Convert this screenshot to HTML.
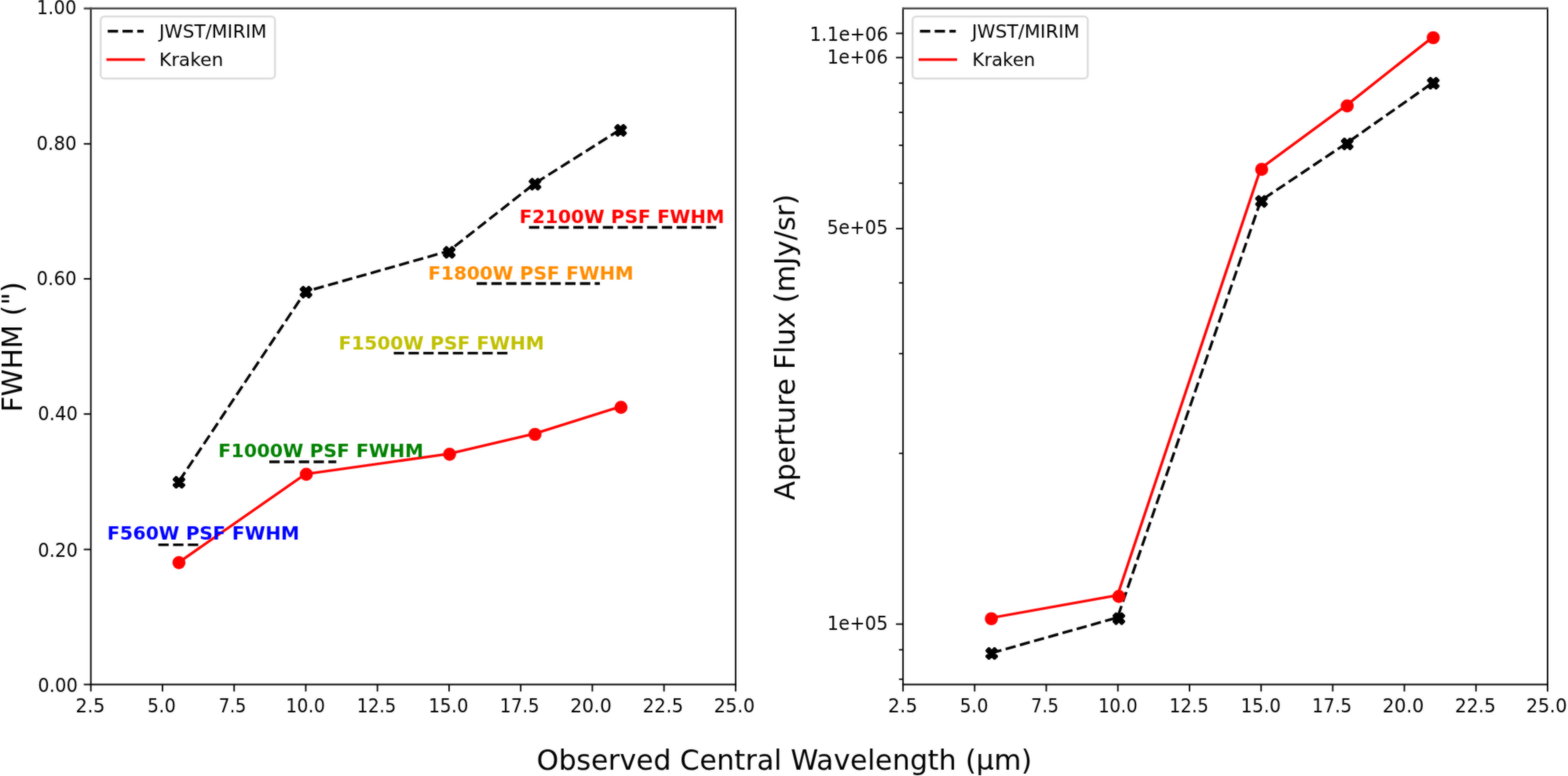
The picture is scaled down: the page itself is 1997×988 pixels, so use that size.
<!DOCTYPE html>
<html lang="en"><head><meta charset="utf-8"><title>FWHM and Aperture Flux vs Observed Central Wavelength</title>
<style>
html,body{margin:0;padding:0;background:#fff;}
body{width:1997px;height:988px;overflow:hidden;}
svg{display:block;}
.t{font-family:'DejaVu Sans', 'Liberation Sans', sans-serif;font-size:23.8px;fill:#000;}
.l{font-family:'DejaVu Sans', 'Liberation Sans', sans-serif;font-size:35.7px;fill:#000;}
.b{font-family:'DejaVu Sans', 'Liberation Sans', sans-serif;font-size:23.8px;font-weight:bold;}
</style></head><body>
<svg width="1997" height="988" viewBox="0 0 1997 988">
<defs><filter id="soft" x="0" y="0" width="1997" height="988" filterUnits="userSpaceOnUse" color-interpolation-filters="sRGB"><feGaussianBlur in="SourceGraphic" stdDeviation="1" result="b"/><feComposite in="SourceGraphic" in2="b" operator="arithmetic" k1="0" k2="0.5" k3="0.5" k4="0"/></filter></defs>
<g filter="url(#soft)">
<rect width="1997" height="988" fill="#fff"/>
<g id="ax-left">
<rect x="115.7" y="10.8" width="821.2" height="860.6" fill="#fff" stroke="none"/>
<line x1="115.7" y1="871.4" x2="115.7" y2="880.4" stroke="#000" stroke-width="1.9"/>
<text transform="matrix(0.9898 0 0 1.01 1.59 -9.52)" x="114.5" y="907.1" class="t" text-anchor="middle">2.5</text>
<line x1="206.94" y1="871.4" x2="206.94" y2="880.4" stroke="#000" stroke-width="1.9"/>
<text transform="matrix(0.9557 0 0 1.01 9.17 -9.52)" x="205.74" y="907.1" class="t" text-anchor="middle">5.0</text>
<line x1="298.19" y1="871.4" x2="298.19" y2="880.4" stroke="#000" stroke-width="1.9"/>
<text transform="matrix(0.9339 0 0 1.01 18.72 -9.52)" x="296.99" y="907.1" class="t" text-anchor="middle">7.5</text>
<line x1="389.43" y1="871.4" x2="389.43" y2="880.4" stroke="#000" stroke-width="1.9"/>
<text transform="matrix(0.9467 0 0 1.01 21.48 -9.52)" x="388.23" y="907.1" class="t" text-anchor="middle">10.0</text>
<line x1="480.68" y1="871.4" x2="480.68" y2="880.4" stroke="#000" stroke-width="1.9"/>
<text transform="matrix(0.9441 0 0 1.01 26.82 -9.52)" x="479.48" y="907.1" class="t" text-anchor="middle">12.5</text>
<line x1="571.92" y1="871.4" x2="571.92" y2="880.4" stroke="#000" stroke-width="1.9"/>
<text transform="matrix(0.9639 0 0 1.01 21.07 -9.52)" x="570.72" y="907.1" class="t" text-anchor="middle">15.0</text>
<line x1="663.17" y1="871.4" x2="663.17" y2="880.4" stroke="#000" stroke-width="1.9"/>
<text transform="matrix(0.9557 0 0 1.01 29.06 -9.52)" x="661.97" y="907.1" class="t" text-anchor="middle">17.5</text>
<line x1="754.41" y1="871.4" x2="754.41" y2="880.4" stroke="#000" stroke-width="1.9"/>
<text transform="matrix(0.9966 0 0 1.01 1.94 -9.52)" x="753.21" y="907.1" class="t" text-anchor="middle">20.0</text>
<line x1="845.66" y1="871.4" x2="845.66" y2="880.4" stroke="#000" stroke-width="1.9"/>
<text transform="matrix(0.9798 0 0 1.01 17.09 -9.52)" x="844.46" y="907.1" class="t" text-anchor="middle">22.5</text>
<line x1="936.9" y1="871.4" x2="936.9" y2="880.4" stroke="#000" stroke-width="1.9"/>
<text transform="matrix(0.9832 0 0 1.01 15.31 -9.52)" x="935.7" y="907.1" class="t" text-anchor="middle">25.0</text>
<line x1="115.7" y1="871.5" x2="106.7" y2="871.5" stroke="#000" stroke-width="1.9"/>
<text transform="matrix(0.9593 0 0 1.01 5.67 -6.79)" x="97.4" y="878.6" class="t" text-anchor="end">0.00</text>
<line x1="115.7" y1="699.55" x2="106.7" y2="699.55" stroke="#000" stroke-width="1.9"/>
<text transform="matrix(0.9593 0 0 1.01 5.67 -4.16)" x="97.4" y="706.48" class="t" text-anchor="end">0.20</text>
<line x1="115.7" y1="527.16" x2="106.7" y2="527.16" stroke="#000" stroke-width="1.9"/>
<text transform="matrix(0.9593 0 0 1.01 5.67 -4.44)" x="97.4" y="534.36" class="t" text-anchor="end">0.40</text>
<line x1="115.7" y1="355" x2="106.7" y2="355" stroke="#000" stroke-width="1.9"/>
<text transform="matrix(0.9643 0 0 1.01 3.67 -2.72)" x="97.4" y="362.24" class="t" text-anchor="end">0.60</text>
<line x1="115.7" y1="183.2" x2="106.7" y2="183.2" stroke="#000" stroke-width="1.9"/>
<text transform="matrix(0.9643 0 0 1.01 3.67 -1.14)" x="97.4" y="190.12" class="t" text-anchor="end">0.80</text>
<line x1="115.7" y1="10.8" x2="106.7" y2="10.8" stroke="#484848" stroke-width="2.6"/>
<text transform="matrix(0.9533 0 0 1.01 4.47 0.22)" x="97.4" y="18" class="t" text-anchor="end">1.00</text>
<polyline points="228.34,612.27 388.93,371.3 571.42,319.67 680.92,233.61 790.41,164.76" fill="none" stroke="#000" stroke-width="3.4" stroke-linejoin="round" stroke-dasharray="13.2 5.6" stroke-linecap="butt"/>
<polygon points="224.37,606.95 227.94,610.52 231.51,606.95 235.09,610.52 231.51,614.1 235.09,617.68 231.51,621.25 227.94,617.68 224.37,621.25 220.79,617.68 224.37,614.1 220.79,610.52" fill="#000" stroke="#000" stroke-width="2.38" stroke-linejoin="bevel"/>
<polygon points="386.16,364.74 389.73,368.31 393.31,364.74 396.88,368.31 393.31,371.89 396.88,375.46 393.31,379.04 389.73,375.46 386.16,379.04 382.58,375.46 386.16,371.89 382.58,368.31" fill="#000" stroke="#000" stroke-width="2.38" stroke-linejoin="bevel"/>
<polygon points="568.53,314.15 572.11,317.73 575.69,314.15 579.26,317.73 575.69,321.3 579.26,324.88 575.69,328.45 572.11,324.88 568.53,328.45 564.96,324.88 568.53,321.3 564.96,317.73" fill="#000" stroke="#000" stroke-width="2.38" stroke-linejoin="bevel"/>
<polygon points="677.78,227.39 681.36,230.97 684.94,227.39 688.51,230.97 684.94,234.54 688.51,238.11 684.94,241.69 681.36,238.11 677.78,241.69 674.21,238.11 677.78,234.54 674.21,230.97" fill="#000" stroke="#000" stroke-width="2.38" stroke-linejoin="bevel"/>
<polygon points="786.77,158.75 790.35,162.33 793.93,158.75 797.5,162.33 793.93,165.9 797.5,169.47 793.93,173.05 790.35,169.47 786.77,173.05 783.2,169.47 786.77,165.9 783.2,162.33" fill="#000" stroke="#000" stroke-width="2.38" stroke-linejoin="bevel"/>
<polyline points="228.34,715.54 388.93,603.66 571.42,577.85 680.92,552.03 790.41,517.6" fill="none" stroke="#f00" stroke-width="3.4" stroke-linejoin="round" stroke-linecap="square"/>
<circle cx="227.9" cy="716.3" r="7.15" fill="#f00" stroke="#f00" stroke-width="2.38"/>
<circle cx="390.1" cy="603.9" r="7.15" fill="#f00" stroke="#f00" stroke-width="2.38"/>
<circle cx="572.6" cy="578.36" r="7.15" fill="#f00" stroke="#f00" stroke-width="2.38"/>
<circle cx="681.42" cy="552.98" r="7.15" fill="#f00" stroke="#f00" stroke-width="2.38"/>
<circle cx="790.91" cy="518.55" r="7.15" fill="#f00" stroke="#f00" stroke-width="2.38"/>
<line x1="201.65" y1="693.6" x2="256" y2="693.6" stroke="#000" stroke-width="3.4" stroke-dasharray="13.2 5.6"/>
<line x1="343" y1="587.95" x2="428.3" y2="587.95" stroke="#000" stroke-width="3.4" stroke-dasharray="13.2 5.6"/>
<line x1="501.5" y1="449.65" x2="647.5" y2="449.65" stroke="#000" stroke-width="3.4" stroke-dasharray="13.2 5.6"/>
<line x1="607" y1="361" x2="764" y2="361" stroke="#000" stroke-width="3.4" stroke-dasharray="13.2 5.6"/>
<line x1="673.7" y1="289.5" x2="912.2" y2="289.5" stroke="#000" stroke-width="3.4" stroke-dasharray="13.2 5.6"/>
<text transform="matrix(0.9961 0 0 1 0.14 -0.4)" x="137" y="687" class="b" fill="#0000ff">F560W PSF FWHM</text>
<text transform="matrix(0.9961 0 0 1 1.1 -0.5)" x="278" y="583" class="b" fill="#008000">F1000W PSF FWHM</text>
<text transform="matrix(0.9989 0 0 1 -0.24 0)" x="432" y="445" class="b" fill="#bfbf00">F1500W PSF FWHM</text>
<text transform="matrix(0.9983 0 0 1 0.23 -0.1)" x="546" y="356" class="b" fill="#ff8c00">F1800W PSF FWHM</text>
<text transform="matrix(0.9957 0 0 1 2.45 0.2)" x="662" y="284" class="b" fill="#ff0000">F2100W PSF FWHM</text>
<rect x="128.2" y="21.1" width="222" height="79" rx="4.8" ry="4.8" fill="#fff" fill-opacity="0.8" stroke="#ccc" stroke-opacity="0.7" stroke-width="2.5"/>
<line x1="137.2" y1="39.8" x2="182.9" y2="39.8" stroke="#000" stroke-width="3.4" stroke-dasharray="13.2 5.6"/>
<line x1="137.2" y1="75.9" x2="182.9" y2="75.9" stroke="#f00" stroke-width="3.4" stroke-linecap="square"/>
<text transform="matrix(0.9798 0 0 1 4.12 -0.25)" x="202.7" y="48.5" class="t">JWST/MIRIM</text>
<text transform="matrix(0.9894 0 0 1 2.18 -0.25)" x="202.7" y="84.5" class="t">Kraken</text>
<line x1="115.7" y1="9.85" x2="115.7" y2="872.35" stroke="#000" stroke-width="1.9"/>
<line x1="936.9" y1="9.85" x2="936.9" y2="872.35" stroke="#000" stroke-width="1.9"/>
<line x1="114.75" y1="871.5" x2="937.85" y2="871.5" stroke="#000" stroke-width="1.9"/>
<line x1="114.75" y1="10.8" x2="937.85" y2="10.8" stroke="#484848" stroke-width="2.6"/>
<text transform="translate(27.7,441.8) rotate(-90) scale(0.982,1)" class="l" text-anchor="middle">FWHM (&quot;)</text>
</g>
<g id="ax-right">
<rect x="1150.1" y="10.8" width="820.9" height="860.6" fill="#fff" stroke="none"/>
<line x1="1150.1" y1="871.4" x2="1150.1" y2="880.4" stroke="#000" stroke-width="1.9"/>
<text transform="matrix(0.9898 0 0 1.01 12.56 -9.52)" x="1148.9" y="907.1" class="t" text-anchor="middle">2.5</text>
<line x1="1241.31" y1="871.4" x2="1241.31" y2="880.4" stroke="#000" stroke-width="1.9"/>
<text transform="matrix(0.9557 0 0 1.01 55.4 -9.52)" x="1240.11" y="907.1" class="t" text-anchor="middle">5.0</text>
<line x1="1332.52" y1="871.4" x2="1332.52" y2="880.4" stroke="#000" stroke-width="1.9"/>
<text transform="matrix(0.9339 0 0 1.01 87.48 -9.52)" x="1331.32" y="907.1" class="t" text-anchor="middle">7.5</text>
<line x1="1423.73" y1="871.4" x2="1423.73" y2="880.4" stroke="#000" stroke-width="1.9"/>
<text transform="matrix(0.9467 0 0 1.01 77.05 -9.52)" x="1422.53" y="907.1" class="t" text-anchor="middle">10.0</text>
<line x1="1514.94" y1="871.4" x2="1514.94" y2="880.4" stroke="#000" stroke-width="1.9"/>
<text transform="matrix(0.9441 0 0 1.01 85.09 -9.52)" x="1513.74" y="907.1" class="t" text-anchor="middle">12.5</text>
<line x1="1606.16" y1="871.4" x2="1606.16" y2="880.4" stroke="#000" stroke-width="1.9"/>
<text transform="matrix(0.9639 0 0 1.01 58.78 -9.52)" x="1604.96" y="907.1" class="t" text-anchor="middle">15.0</text>
<line x1="1697.37" y1="871.4" x2="1697.37" y2="880.4" stroke="#000" stroke-width="1.9"/>
<text transform="matrix(0.9557 0 0 1.01 75.3 -9.52)" x="1696.17" y="907.1" class="t" text-anchor="middle">17.5</text>
<line x1="1788.58" y1="871.4" x2="1788.58" y2="880.4" stroke="#000" stroke-width="1.9"/>
<text transform="matrix(0.9966 0 0 1.01 5.82 -9.52)" x="1787.38" y="907.1" class="t" text-anchor="middle">20.0</text>
<line x1="1879.79" y1="871.4" x2="1879.79" y2="880.4" stroke="#000" stroke-width="1.9"/>
<text transform="matrix(0.9798 0 0 1.01 38.43 -9.52)" x="1878.59" y="907.1" class="t" text-anchor="middle">22.5</text>
<line x1="1971" y1="871.4" x2="1971" y2="880.4" stroke="#000" stroke-width="1.9"/>
<text transform="matrix(0.9832 0 0 1.01 33.1 -9.52)" x="1969.8" y="907.1" class="t" text-anchor="middle">25.0</text>
<line x1="1150.1" y1="42.46" x2="1141.1" y2="42.46" stroke="#000" stroke-width="1.9"/>
<text transform="matrix(0.9748 0 0 1.01 28.09 0.49)" x="1131.8" y="50.66" class="t" text-anchor="end">1.1e+06</text>
<line x1="1150.1" y1="73.34" x2="1141.1" y2="73.34" stroke="#000" stroke-width="1.9"/>
<text transform="matrix(0.9686 0 0 1.01 34.67 -0.71)" x="1131.8" y="80.5" class="t" text-anchor="end">1e+06</text>
<line x1="1150.1" y1="291.1" x2="1141.1" y2="291.1" stroke="#000" stroke-width="1.9"/>
<text transform="matrix(0.9702 0 0 1.01 32.77 -2.53)" x="1131.8" y="297.54" class="t" text-anchor="end">5e+05</text>
<line x1="1150.1" y1="794.6" x2="1141.1" y2="794.6" stroke="#000" stroke-width="1.9"/>
<text transform="matrix(0.9682 0 0 1.03 35.06 -23.45)" x="1131.8" y="801.5" class="t" text-anchor="end">1e+05</text>
<line x1="1150.1" y1="105.79" x2="1144.9" y2="105.79" stroke="#000" stroke-width="1.75"/>
<line x1="1150.1" y1="143.17" x2="1144.9" y2="143.17" stroke="#000" stroke-width="1.75"/>
<line x1="1150.1" y1="184.98" x2="1144.9" y2="184.98" stroke="#000" stroke-width="1.75"/>
<line x1="1150.1" y1="233.25" x2="1144.9" y2="233.25" stroke="#000" stroke-width="1.75"/>
<line x1="1150.1" y1="360.21" x2="1144.9" y2="360.21" stroke="#000" stroke-width="1.75"/>
<line x1="1150.1" y1="450.3" x2="1144.9" y2="450.3" stroke="#000" stroke-width="1.75"/>
<line x1="1150.1" y1="577.26" x2="1144.9" y2="577.26" stroke="#000" stroke-width="1.75"/>
<line x1="1150.1" y1="827.29" x2="1144.9" y2="827.29" stroke="#000" stroke-width="1.75"/>
<line x1="1150.1" y1="864.77" x2="1144.9" y2="864.77" stroke="#000" stroke-width="1.75"/>
<polyline points="1262.7,831.45 1423.23,786.25 1605.66,255.45 1715.11,182.25 1824.56,105.45" fill="none" stroke="#000" stroke-width="3.4" stroke-linejoin="round" stroke-dasharray="13.2 5.6" stroke-linecap="butt"/>
<polygon points="1259.47,824.95 1263.05,828.52 1266.62,824.95 1270.2,828.52 1266.62,832.1 1270.2,835.68 1266.62,839.25 1263.05,835.68 1259.47,839.25 1255.9,835.68 1259.47,832.1 1255.9,828.52" fill="#000" stroke="#000" stroke-width="2.38" stroke-linejoin="bevel"/>
<polygon points="1421.42,780.55 1425,784.12 1428.58,780.55 1432.15,784.12 1428.58,787.7 1432.15,791.28 1428.58,794.85 1425,791.28 1421.42,794.85 1417.85,791.28 1421.42,787.7 1417.85,784.12" fill="#000" stroke="#000" stroke-width="2.38" stroke-linejoin="bevel"/>
<polygon points="1603.02,249.25 1606.6,252.82 1610.17,249.25 1613.75,252.82 1610.17,256.4 1613.75,259.97 1610.17,263.55 1606.6,259.97 1603.02,263.55 1599.45,259.97 1603.02,256.4 1599.45,252.82" fill="#000" stroke="#000" stroke-width="2.38" stroke-linejoin="bevel"/>
<polygon points="1712.22,176.05 1715.8,179.62 1719.38,176.05 1722.95,179.62 1719.38,183.2 1722.95,186.77 1719.38,190.35 1715.8,186.77 1712.22,190.35 1708.65,186.77 1712.22,183.2 1708.65,179.62" fill="#000" stroke="#000" stroke-width="2.38" stroke-linejoin="bevel"/>
<polygon points="1821.83,98.85 1825.4,102.42 1828.98,98.85 1832.55,102.42 1828.98,106 1832.55,109.58 1828.98,113.15 1825.4,109.58 1821.83,113.15 1818.25,109.58 1821.83,106 1818.25,102.42" fill="#000" stroke="#000" stroke-width="2.38" stroke-linejoin="bevel"/>
<polyline points="1262.7,786.65 1423.23,757.95 1605.66,214.45 1715.11,133.85 1824.56,47.35" fill="none" stroke="#f00" stroke-width="3.4" stroke-linejoin="round" stroke-linecap="square"/>
<circle cx="1262.6" cy="787.77" r="7.15" fill="#f00" stroke="#f00" stroke-width="2.38"/>
<circle cx="1425" cy="759.4" r="7.15" fill="#f00" stroke="#f00" stroke-width="2.38"/>
<circle cx="1606.86" cy="215.56" r="7.15" fill="#f00" stroke="#f00" stroke-width="2.38"/>
<circle cx="1715.8" cy="134.8" r="7.15" fill="#f00" stroke="#f00" stroke-width="2.38"/>
<circle cx="1825.4" cy="48" r="7.15" fill="#f00" stroke="#f00" stroke-width="2.38"/>
<rect x="1162.2" y="21.1" width="223.2" height="79" rx="4.8" ry="4.8" fill="#fff" fill-opacity="0.8" stroke="#ccc" stroke-opacity="0.7" stroke-width="2.5"/>
<line x1="1171.6" y1="39.8" x2="1217.3" y2="39.8" stroke="#000" stroke-width="3.4" stroke-dasharray="13.2 5.6"/>
<line x1="1171.6" y1="75.9" x2="1217.3" y2="75.9" stroke="#f00" stroke-width="3.4" stroke-linecap="square"/>
<text transform="matrix(0.9824 0 0 1 22.39 -0.25)" x="1237.1" y="48.5" class="t">JWST/MIRIM</text>
<text transform="matrix(0.9715 0 0 1 36.41 -0.25)" x="1237.1" y="84.5" class="t">Kraken</text>
<line x1="1150.1" y1="9.85" x2="1150.1" y2="872.35" stroke="#000" stroke-width="1.9"/>
<line x1="1971" y1="9.85" x2="1971" y2="872.35" stroke="#000" stroke-width="1.9"/>
<line x1="1149.15" y1="871.5" x2="1971.95" y2="871.5" stroke="#000" stroke-width="1.9"/>
<line x1="1149.15" y1="10.8" x2="1971.95" y2="10.8" stroke="#484848" stroke-width="2.6"/>
<text transform="translate(1012,442) rotate(-90) scale(0.992,1)" class="l" text-anchor="middle">Aperture Flux (mJy/sr)</text>
</g>
<text transform="matrix(0.9973 0 0 1 3.49 0.5)" x="998.2" y="979.3" class="l" text-anchor="middle">Observed Central Wavelength (μm)</text>
</g>
</svg></body></html>
